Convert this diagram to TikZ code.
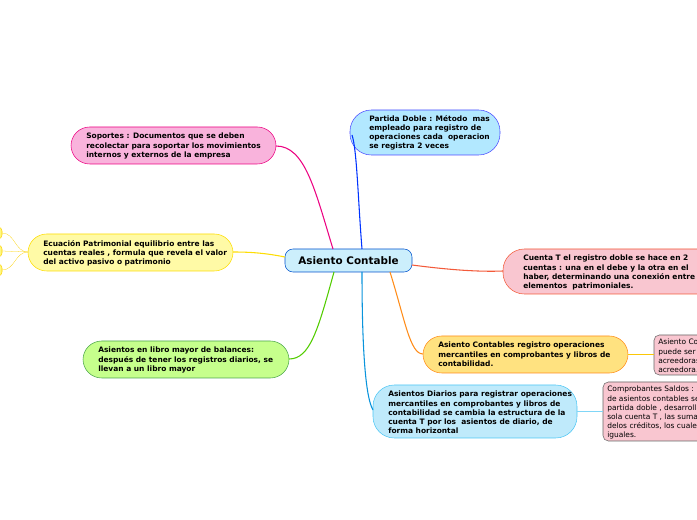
\documentclass[tikz,border=0pt]{standalone}
\usepackage{fontspec}
\setmainfont{DejaVu Sans}
\definecolor{pk}{HTML}{F9C6D0}
\definecolor{pkd}{HTML}{F35A3A}
\begin{document}
\begin{tikzpicture}[x=0.75pt,y=-0.75pt,
  txt/.style={anchor=north west,align=left,font=\fontsize{5.6}{6.9}\selectfont,inner sep=0pt},
  bt/.style={anchor=north west,align=left,font=\fontsize{5.6}{6.9}\selectfont\bfseries,inner sep=0pt}]
\useasboundingbox (0,0) rectangle (697,520);
\begin{scope}
\clip (0,0) rectangle (697,520);
% boxes
\filldraw[draw=blue!60!cyan!80!black,fill=cyan!20,rounded corners=6] (285,249) rectangle (412,272);
\node[inner sep=0pt,font=\fontsize{7.8}{9}\selectfont\bfseries] (c) at (348.5,260.5) {Asiento Contable};
\filldraw[draw=blue!70,fill=blue!30!cyan!30,rounded corners=16] (350,110) rectangle (500,155);
\node[bt] (pd) at (369,115) {Partida Doble : Método\ \ mas\\empleado para registro de\\operaciones cada\ \ operacion\\se registra 2 veces};
\filldraw[draw=magenta!90!red,fill=magenta!30,rounded corners=14] (71,127) rectangle (276,164);
\node[bt] (so) at (86,133) {Soportes : Documentos que se deben\\recolectar para soportar los movimientos\\internos y externos de la empresa};
\filldraw[draw=yellow!80!orange,fill=yellow!35,rounded corners=14] (28,234) rectangle (233,271);
\node[bt] (ec) at (43,240) {Ecuación Patrimonial equilibrio entre las\\cuentas reales , formula que revela el valor\\del activo pasivo o patrimonio};
\filldraw[draw=green!50!black!70,fill=green!50!yellow!45,rounded corners=14] (83,341) rectangle (289,378);
\node[bt] (lm) at (98,347) {Asientos en libro mayor de balances:\\después de tener los registros diarios, se\\llevan a un libro mayor};
\filldraw[draw=pkd,fill=pk,rounded corners=16] (503,249) rectangle (720,294);
\node[bt] (ct2) at (523,255) {Cuenta T el registro doble se hace en 2\\cuentas : una en el debe y la otra en el\\haber, determinando una conexión entre\\elementos\ \ patrimoniales.};
\filldraw[draw=orange!90,fill=orange!45!yellow!50,rounded corners=14] (423,336) rectangle (628,373);
\node[bt] (ac) at (438,342) {Asiento Contables registro operaciones\\mercantiles en comprobantes y libros de\\contabilidad.};
\filldraw[draw=cyan!70,fill=cyan!25,rounded corners=16] (373,385) rectangle (577,438);
\node[bt] (ad) at (388,391) {Asientos Diarios para registrar operaciones\\mercantiles en comprobantes y libros de\\contabilidad se cambia la estructura de la\\cuenta T por los\ \ asientos de diario, de\\forma horizontal};
\filldraw[draw=gray!80!black,fill=pk,rounded corners=4] (654,335) rectangle (720,375);
\node[txt] (ac2) at (658,339) {Asiento Contable\\puede ser de\\acreedoras y\\acreedora.};
\filldraw[draw=gray!80!black,fill=pk,rounded corners=4] (603,382) rectangle (720,441);
\node[txt] (cs) at (607,386) {Comprobantes Saldos : la suma\\de asientos contables se\\partida doble , desarrollada\\sola cuenta T , las sumas\\delos créditos, los cuales\\iguales.};
\foreach \yy in {227,245,264}{\filldraw[draw=yellow!70!orange,fill=yellow!50,rounded corners=3] (-10,\yy) rectangle (2,\yy+12);}
% connectors
\draw[magenta!90!red,thick] (333,249) .. controls (315,190) and (305,146) .. (276,146);
\draw[blue!80!cyan,thick] (362,249) .. controls (358,200) and (357,150) .. (352,135);
\draw[yellow!80!orange,thick] (285,257) .. controls (265,253) and (250,252) .. (233,252);
\draw[green!60!yellow!80!black,thick] (334,272) .. controls (318,330) and (310,359) .. (289,359);
\draw[pkd,thick] (412,265) .. controls (450,270) and (480,272) .. (503,271);
\draw[orange!90,thick] (390,272) .. controls (405,320) and (410,354) .. (423,354);
\draw[cyan!80!blue,thick] (362,272) .. controls (362,330) and (364,395) .. (373,410);
\draw[yellow!60!orange,thin] (628,354) -- (654,354);
\draw[cyan!50,thin] (577,411) -- (603,411);
\foreach \yy in {233,251,270}{\draw[yellow!70!orange,very thin] (28,252) .. controls (15,252) and (15,\yy) .. (2,\yy);}
\end{scope}
\end{tikzpicture}
\end{document}
